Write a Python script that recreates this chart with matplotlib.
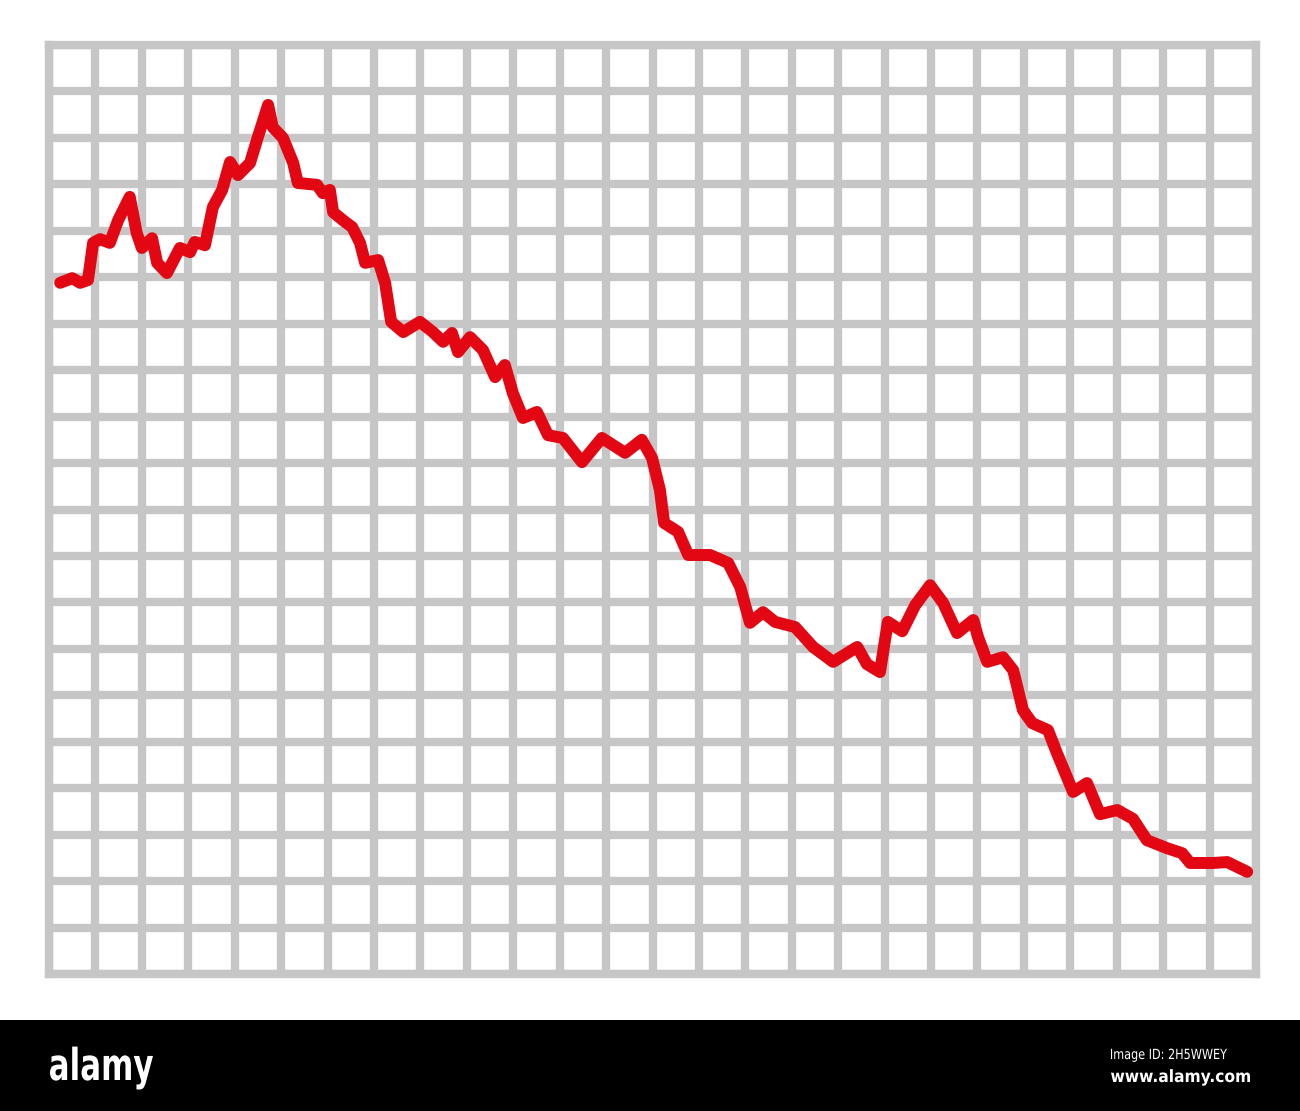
import matplotlib.pyplot as plt
from matplotlib.textpath import TextPath
from matplotlib.patches import PathPatch
from matplotlib.font_manager import FontProperties
from matplotlib.transforms import Affine2D

# grid size in cells
n_cols = 26
n_rows = 20

# red line (x, y in grid cells, y up from bottom)
line_x = [0.24, 0.50, 0.67, 0.84, 0.95, 1.10, 1.31, 1.49, 1.74, 1.89, 2.00, 2.22, 2.33, 2.54,
          2.82, 3.04, 3.14, 3.36, 3.53, 3.73, 3.90, 4.07, 4.33, 4.50, 4.72, 4.82, 5.04, 5.26,
          5.36, 5.77, 5.90, 6.05, 6.12, 6.38, 6.53, 6.70, 6.81, 7.09, 7.24, 7.37, 7.63, 7.99,
          8.27, 8.49, 8.68, 8.81, 9.07, 9.35, 9.61, 9.82, 9.99, 10.21, 10.51, 10.75, 11.07,
          11.48, 11.91, 12.41, 12.77, 12.99, 13.16, 13.25, 13.55, 13.77, 14.24, 14.63, 14.89,
          15.10, 15.38, 15.64, 16.07, 16.46, 16.89, 17.41, 17.62, 17.90, 18.07, 18.38, 18.66,
          18.98, 19.26, 19.56, 19.91, 20.01, 20.21, 20.55, 20.77, 20.98, 21.18, 21.52, 21.71,
          22.06, 22.36, 22.64, 23.01, 23.35, 23.65, 24.08, 24.41, 24.58, 25.08, 25.38, 25.81]
line_y = [14.88, 14.98, 14.88, 14.94, 15.74, 15.82, 15.74, 16.23, 16.73, 15.95, 15.63, 15.84,
          15.31, 15.09, 15.63, 15.54, 15.76, 15.69, 16.51, 16.88, 17.48, 17.20, 17.46, 18.02,
          18.71, 18.23, 18.00, 17.46, 17.03, 16.99, 16.81, 16.88, 16.40, 16.19, 16.08, 15.74,
          15.31, 15.37, 14.88, 14.04, 13.82, 14.04, 13.82, 13.61, 13.80, 13.39, 13.71, 13.43,
          12.85, 13.11, 12.51, 11.97, 12.10, 11.60, 11.54, 11.02, 11.54, 11.22, 11.50, 11.11,
          10.42, 9.71, 9.52, 9.02, 9.02, 8.85, 8.33, 7.56, 7.79, 7.58, 7.47, 7.04, 6.72, 7.04,
          6.67, 6.50, 7.58, 7.38, 7.94, 8.37, 7.99, 7.34, 7.62, 7.26, 6.72, 6.82, 6.54, 5.68,
          5.40, 5.25, 4.76, 3.92, 4.11, 3.44, 3.53, 3.34, 2.88, 2.71, 2.60, 2.39, 2.39, 2.41,
          2.20]

grid_color = '#c6c6c6'
red = '#e30613'

fig = plt.figure(figsize=(13, 11.11), dpi=100)
ax = fig.add_axes([49 / 1300, (1111 - 974) / 1111, 1207 / 1300, 929 / 1111])
ax.set_xlim(0, n_cols)
ax.set_ylim(0, n_rows)
ax.set_xticks(range(n_cols + 1))
ax.set_yticks(range(n_rows + 1))
ax.tick_params(length=0, labelbottom=False, labelleft=False)
ax.grid(True, color=grid_color, linewidth=6.0)
ax.set_axisbelow(True)
for s in ax.spines.values():
    s.set_color(grid_color)
    s.set_linewidth(6.0)
    s.set_capstyle('projecting')

ax.plot(line_x, line_y, color=red, linewidth=8.6, solid_joinstyle='round',
        solid_capstyle='round', zorder=3)

# black footer band, 1 unit = 1 pixel
bar = fig.add_axes([0, 0, 1, 91 / 1111])
bar.set_facecolor('black')
bar.set_xlim(0, 1300)
bar.set_ylim(0, 91)
bar.set_xticks([])
bar.set_yticks([])
for s in bar.spines.values():
    s.set_visible(False)


def narrow_text(s, x, y, size, width, bold=True):
    # condensed text: squeeze a text path to the wanted pixel width
    prop = FontProperties(family='DejaVu Sans', weight='bold' if bold else 'normal')
    tp = TextPath((0, 0), s, size=size, prop=prop)
    ext = tp.get_extents()
    sx = width / ext.width
    tr = Affine2D().translate(-ext.x0, 0).scale(sx, 1).translate(x, y)
    bar.add_patch(PathPatch(tr.transform_path(tp), facecolor='white', edgecolor='none'))


narrow_text('alamy', 50, 31, 44, 103)
narrow_text('Image ID: 2H5WWEY', 1111, 52, 14, 116, bold=False)
narrow_text('www.alamy.com', 1111, 29, 17, 139)

fig.savefig('out.png', dpi=100)
